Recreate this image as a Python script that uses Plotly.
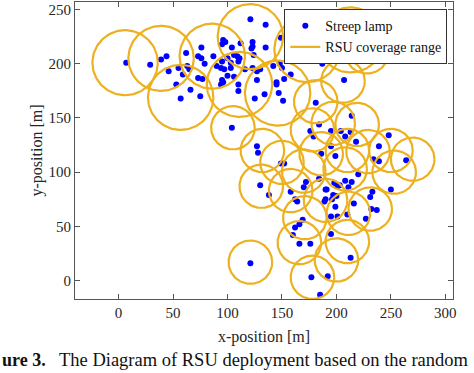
import numpy as np
import plotly.graph_objects as go

# Street lamp positions [m]
lamp_x = [7, 29, 39, 44, 46, 53, 57, 66, 75, 55, 59, 62, 76, 73, 76, 79, 63, 65, 73, 77,
          121, 135, 149, 173, 96, 98, 95, 104, 112, 123, 123, 122, 135, 87, 95, 100, 106, 109,
          111, 110, 103, 90, 94, 97, 103, 123, 116, 127, 130, 142, 148, 150, 158, 100, 95, 96,
          94, 106, 110, 110, 127, 125, 134, 145, 145, 152, 147, 151, 124,
          182, 187, 207, 228, 181, 214, 104, 127, 128, 149, 176, 184, 179, 195, 195, 199, 204,
          208, 213, 218, 239, 248, 239, 264,
          234, 250, 208, 214, 211, 201, 220, 231, 233, 197, 216,
          130, 152, 186, 184, 172, 170, 158, 191, 198, 203, 190, 196, 200, 162,
          138, 164, 190, 237, 232, 210, 201, 195, 169, 166, 162, 160, 195, 166, 176, 213, 192,
          177, 185, 121, 227, 199, 189]
lamp_y = [201, 199, 204, 207, 193, 181, 168, 176, 170, 196, 190, 210, 215, 207, 205, 200, 198, 195, 187, 186,
          241, 236, 224, 214, 222, 220, 218, 215, 219, 220, 216, 214, 215, 207, 202, 205, 208, 207,
          205, 202, 201, 198, 196, 195, 196, 196, 195, 193, 195, 198, 200, 196, 190, 189, 185, 183,
          181, 188, 181, 175, 185, 168, 172, 183, 181, 186, 173, 166, 208,
          203, 200, 185, 211, 164, 152, 141, 124, 118, 108, 138, 144, 133, 138, 124, 115, 138,
          133, 137, 128, 124, 134, 110, 111,
          112, 84, 92, 91, 86, 87, 98, 77, 82, 79, 71,
          88, 108, 117, 94, 91, 86, 82, 84, 90, 88, 75, 75, 78, 75,
          79, 73, 84, 65, 66, 61, 59, 59, 56, 52, 49, 42, 43, 34, 34, 21, 4,
          3, -13, 16, 57, 68, 73]

# RSU positions [m] and coverage radius [m]
rsu_x = [6, 39, 57, 86, 111, 121, 173, 213, 146,
         206, 228, 105, 181, 178, 197, 219, 132, 150, 186, 210, 229, 250, 270, 253, 208,
         170, 158, 131, 231, 171, 190, 211, 166, 178, 200, 210, 121]
rsu_y = [201, 205, 169, 207, 181, 225, 213, 222, 173,
         184, 211, 141, 165, 139, 145, 144, 120, 109, 117, 120, 119, 120, 112, 100, 103,
         101, 83, 87, 66, 58, 74, 62, 35, 3, 19, 36, 17]
rsu_r = [30, 30, 30, 30, 30, 30, 30, 30, 30,
         20, 20, 20, 20, 20, 20, 20, 20, 20, 20, 20, 20, 20, 20, 20, 20,
         20, 20, 20, 20, 20, 20, 20, 20, 20, 20, 20, 20]

theta = np.linspace(0, 2 * np.pi, 145)
circ_x, circ_y = [], []
for x0, y0, r in zip(rsu_x, rsu_y, rsu_r):
    circ_x += list(x0 + r * np.cos(theta)) + [None]
    circ_y += list(y0 + r * np.sin(theta)) + [None]

SERIF = "Liberation Serif"

fig = go.Figure()
fig.add_trace(go.Scatter(x=lamp_x, y=lamp_y, mode="markers", name="Streep lamp",
                         marker=dict(color="#0000FF", size=6, line=dict(width=0))))
fig.add_trace(go.Scatter(x=circ_x, y=circ_y, mode="lines", name="RSU coverage range",
                         line=dict(color="#EDB120", width=2.2)))

axis_common = dict(showgrid=False, zeroline=False, showline=True, linecolor="#555555",
                   linewidth=1, mirror="ticks", ticks="inside", ticklen=5, tickcolor="#555555",
                   automargin=False,
                   tickfont=dict(family=SERIF, size=15, color="#262626"))

fig.update_xaxes(range=[-40, 307], tickvals=[0, 50, 100, 150, 200, 250, 300],
                 title=dict(text="x-position [m]", font=dict(family=SERIF, size=16, color="#262626"),
                            standoff=10), **axis_common)
fig.update_yaxes(range=[-17, 257], tickvals=[0, 50, 100, 150, 200, 250],
                 title=dict(text="y-position [m]", font=dict(family=SERIF, size=16, color="#262626"),
                            standoff=1), **axis_common)

fig.update_layout(
    width=474, height=373,
    margin=dict(l=75, r=21, t=2, b=74),
    paper_bgcolor="white", plot_bgcolor="white",
    showlegend=True,
    legend=dict(x=0.985, xanchor="right", y=0.976, yanchor="top",
                bgcolor="white", bordercolor="#333333", borderwidth=1,
                font=dict(family=SERIF, size=14, color="#111111"),
                itemwidth=30, tracegroupgap=0),
    annotations=[
        dict(text="<b>ure 3.</b>", xref="paper", yref="paper", x=-0.198, y=-0.205,
             xanchor="left", yanchor="middle", showarrow=False,
             font=dict(family=SERIF, size=18, color="#111111")),
        dict(text="The Diagram of RSU deployment based on the random", xref="paper", yref="paper",
             x=-0.048, y=-0.205, xanchor="left", yanchor="middle", showarrow=False,
             font=dict(family=SERIF, size=18.5, color="#111111")),
    ],
)

fig.write_html("out.html", config={"displayModeBar": False},
               post_script="document.body.style.margin='0';document.body.style.overflow='hidden';")
